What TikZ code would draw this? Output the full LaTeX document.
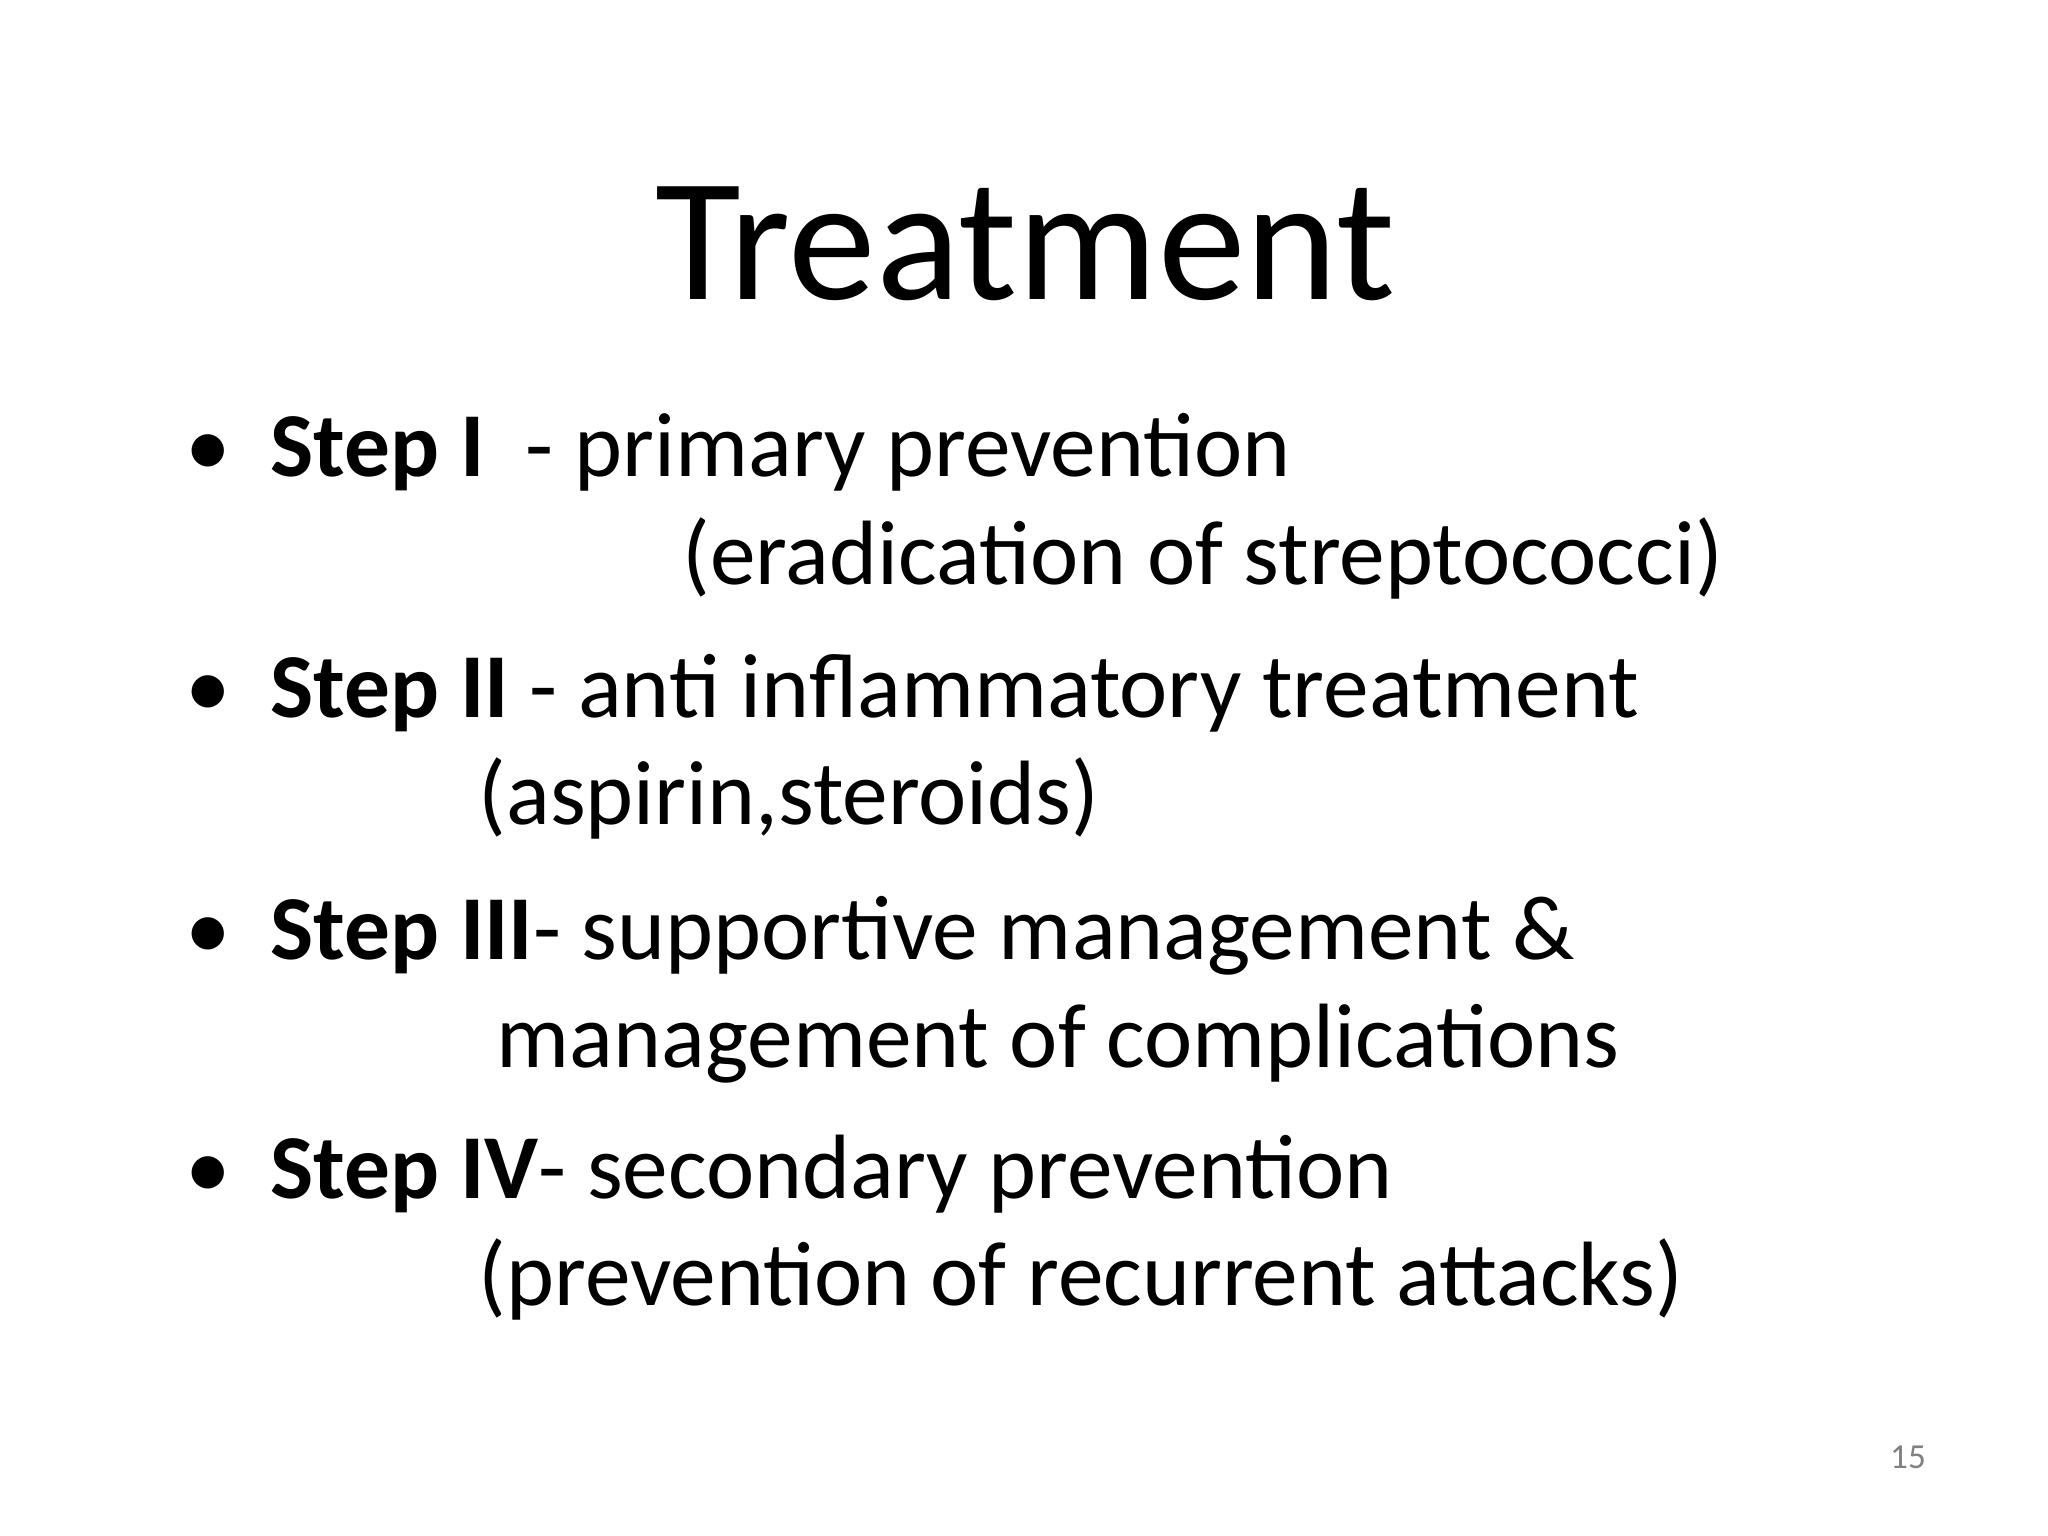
\documentclass[tikz,border=0pt]{standalone}
\usepackage{fontspec}
\setmainfont{Carlito}
\begin{document}
\begin{tikzpicture}[x=1cm,y=1cm,
  line/.style={anchor=base west,inner sep=0pt,font=\fontsize{26}{30}\selectfont},
  bul/.style={anchor=base,inner sep=0pt,font=\fontsize{26}{30}\selectfont}]
\useasboundingbox (0,0) rectangle (20.48,15.36);
\fill[white] (0,0) rectangle (20.48,15.36);
\node[anchor=base,inner sep=0pt,font=\fontsize{50}{56}\selectfont] (title) at (10.25,12.36) {Treatment};
\node[bul] (b1) at (2.08,10.59) {•};
\node[line] (l1) at (2.70,10.59) {\textbf{Step I}\ \ - primary prevention};
\node[line] (l1b) at (6.82,9.51) {(eradication of streptococci)};
\node[bul] (b2) at (2.08,8.18) {•};
\node[line] (l2) at (2.70,8.18) {\textbf{Step II} - anti inflammatory treatment};
\node[line] (l2b) at (4.78,7.11) {(aspirin,steroids)};
\node[bul] (b3) at (2.08,5.76) {•};
\node[line] (l3) at (2.70,5.76) {\textbf{Step III}- supportive management \&};
\node[line] (l3b) at (4.96,4.68) {management of complications};
\node[bul] (b4) at (2.08,3.37) {•};
\node[line] (l4) at (2.70,3.37) {\textbf{Step IV}- secondary prevention};
\node[line] (l4b) at (4.78,2.30) {(prevention of recurrent attacks)};
\node[anchor=base,inner sep=0pt,text=gray,font=\fontsize{10}{12}\selectfont] (pg) at (19.08,0.67) {15};
\end{tikzpicture}
\end{document}
